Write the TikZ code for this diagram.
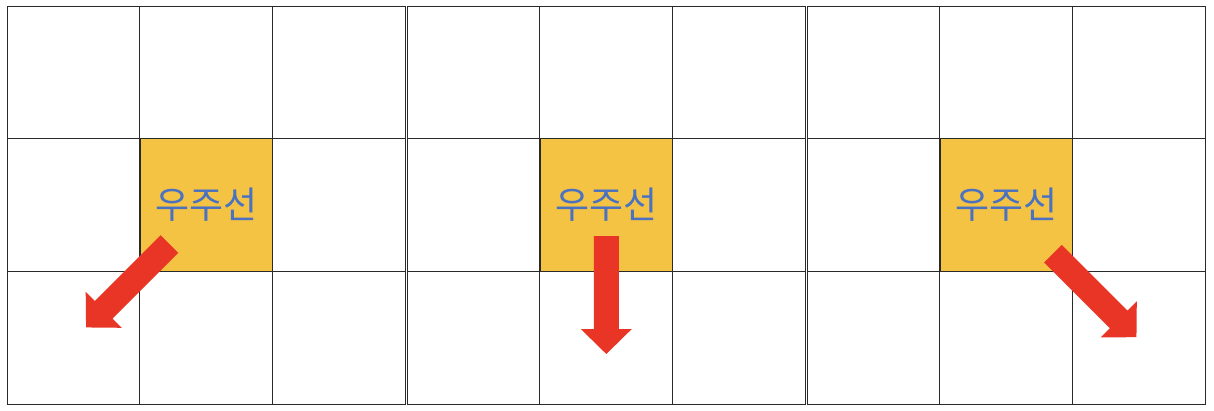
\documentclass[tikz,border=0pt]{standalone}
\usepackage{fontspec}
\newfontfamily\kr{Noto Sans CJK KR}
\definecolor{shipyellow}{HTML}{F4C343}
\definecolor{shipblue}{HTML}{4A72C0}
\definecolor{arrowred}{HTML}{E93525}
\definecolor{gridline}{HTML}{2A2A2A}
\tikzset{
  gridstyle/.style={draw=gridline, line width=1pt},
  ship/.style={draw=gridline, line width=1pt, fill=shipyellow, minimum width=132.8pt, minimum height=132.7pt, inner sep=0pt, text=shipblue, font=\kr\fontsize{37}{42}\selectfont},
  blockarrow/.pic={
    \fill[arrowred] (0,-12.5) -- (93,-12.5) -- (93,-25.5) -- (118,0) -- (93,25.5) -- (93,12.5) -- (0,12.5) -- cycle;
  }
}
\begin{document}
\begin{tikzpicture}[x=1pt,y=-1pt]
\useasboundingbox[fill=white] (0,0) rectangle (1214,410);
\foreach \k in {0,1,2}{
  \pgfmathsetmacro{\xo}{7+400*\k}
  \draw[gridstyle] (\xo,6) rectangle ++(398.5,398);
  \draw[gridstyle] (\xo+132.8,6) -- ++(0,398);
  \draw[gridstyle] (\xo+265.7,6) -- ++(0,398);
  \draw[gridstyle] (\xo,138.7) -- ++(398.5,0);
  \draw[gridstyle] (\xo,271.3) -- ++(398.5,0);
}
\node[ship] (ship1) at (206.4,205) {우주선};
\node[ship] (ship2) at (606.4,205) {우주선};
\node[ship] (ship3) at (1006.4,205) {우주선};
\coordinate (tail1) at (169.5,244);
\coordinate (tail2) at (606.3,236);
\coordinate (tail3) at (1053,253.7);
\pic[rotate=-135] at (tail1) {blockarrow};
\pic[rotate=-90] at (tail2) {blockarrow};
\pic[rotate=-45] at (tail3) {blockarrow};
\end{tikzpicture}
\end{document}
